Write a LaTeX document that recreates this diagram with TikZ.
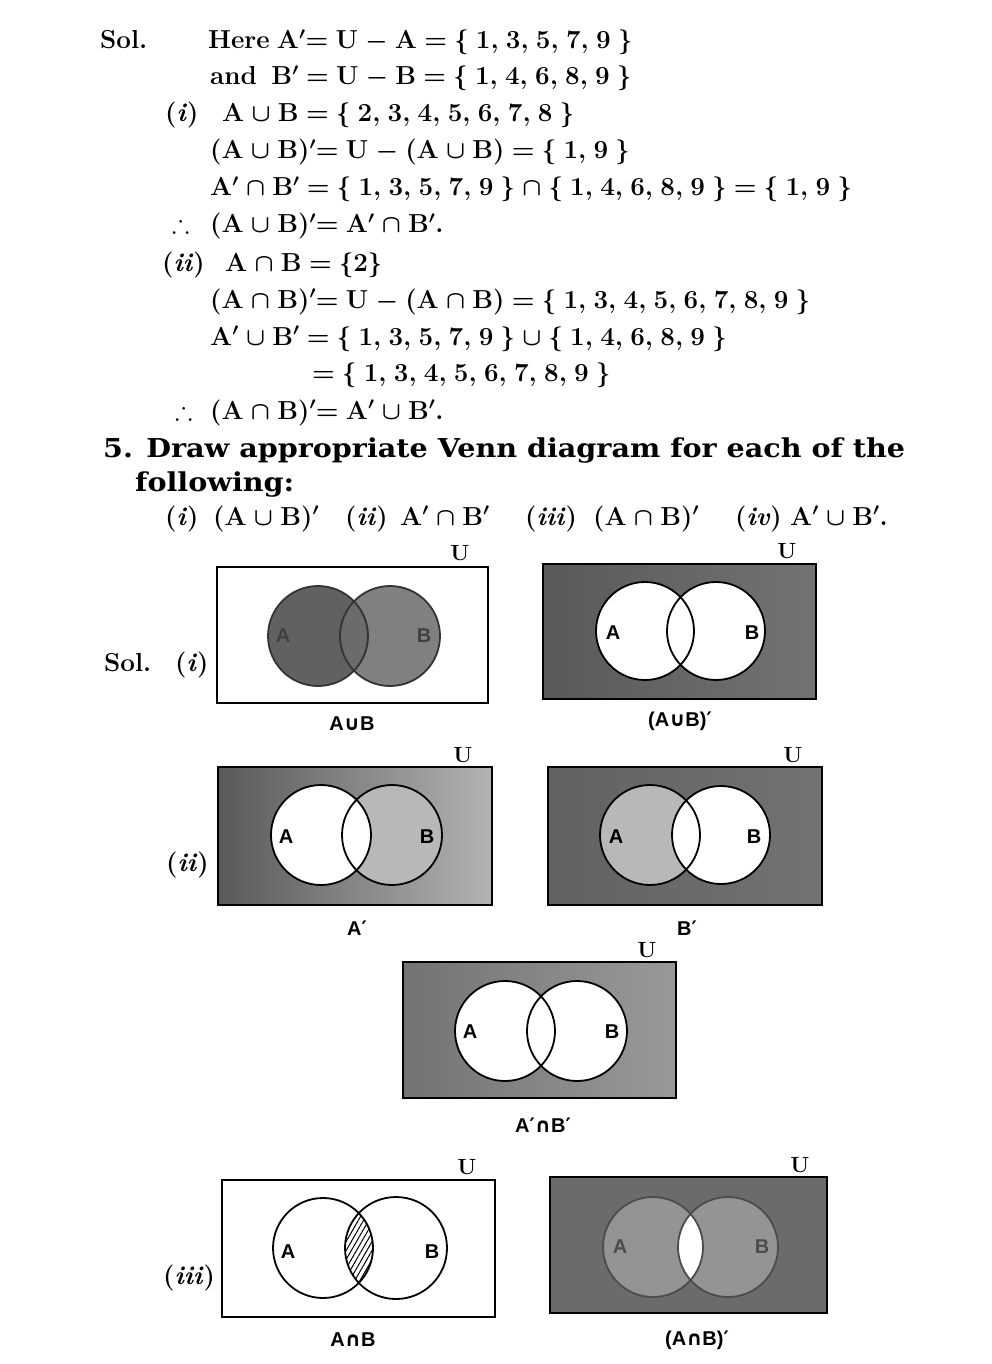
\documentclass[tikz,border=0pt]{standalone}
\usepackage{amssymb}
\usepackage{fontspec}
\newfontfamily\sansf{Liberation Sans}
\newfontfamily\dejasans{DejaVu Sans}
\newfontfamily\headf[FakeStretch=1.1]{DejaVu Serif}
\usetikzlibrary{patterns.meta}
\newcommand\tightsp{\spaceskip=0.28em plus 0.1em minus 0.05em\relax}
\begin{document}
\begin{tikzpicture}[x=1pt,y=-1pt,
  txt/.style={anchor=base west, inner sep=0pt, font=\fontsize{26}{30}\selectfont\bfseries\boldmath\tightsp},
  head/.style={anchor=base west, inner sep=0pt, font=\fontsize{26}{30}\selectfont\headf\bfseries},
  ulab/.style={inner sep=0pt, font=\fontsize{22}{22}\selectfont\bfseries},
  dlab/.style={inner sep=0pt, font=\fontsize{20}{20}\selectfont\sansf\bfseries},
  boxline/.style={line width=2.4pt},
  circline/.style={line width=1.8pt}]
\useasboundingbox[fill=white] (0,0) rectangle (992,1364);

% ---------- text ----------
\node[txt] (t1) at (100,49) {Sol.};
\node[txt] (t2) at (208,49) {Here A$'$= U $-$ A = $\{$ 1, 3, 5, 7, 9 $\}$};
\node[txt] (t3) at (210,85) {and \ B$'$ = U $-$ B = $\{$ 1, 4, 6, 8, 9 $\}$};
\node[txt] (t4a) at (165,122) {(\textit{i})};
\node[txt] (t4) at (222,122) {A $\cup$ B = $\{$ 2, 3, 4, 5, 6, 7, 8 $\}$};
\node[txt] (t5) at (210,159) {(A $\cup$ B)$'$= U $-$ (A $\cup$ B) = $\{$ 1, 9 $\}$};
\node[txt] (t6) at (210,196) {A$'$ $\cap$ B$'$ = $\{$ 1, 3, 5, 7, 9 $\}$ $\cap$ $\{$ 1, 4, 6, 8, 9 $\}$ = $\{$ 1, 9 $\}$};
\node[txt] (t7a) at (172,233) {$\therefore$};
\node[txt] (t7) at (210,233) {(A $\cup$ B)$'$= A$'$ $\cap$ B$'$.};
\node[txt] (t8a) at (162,271) {(\textit{ii})};
\node[txt] (t8) at (225,271) {A $\cap$ B = $\{$2$\}$};
\node[txt] (t9) at (210,308) {(A $\cap$ B)$'$= U $-$ (A $\cap$ B) = $\{$ 1, 3, 4, 5, 6, 7, 8, 9 $\}$};
\node[txt] (t10) at (210,345) {A$'$ $\cup$ B$'$ = $\{$ 1, 3, 5, 7, 9 $\}$ $\cup$ $\{$ 1, 4, 6, 8, 9 $\}$};
\node[txt] (t11) at (312,381) {= $\{$ 1, 3, 4, 5, 6, 7, 8, 9 $\}$};
\node[txt] (t12a) at (175,419) {$\therefore$};
\node[txt] (t12) at (210,419) {(A $\cap$ B)$'$= A$'$ $\cup$ B$'$.};
\node[head] (h1) at (103,457) {5. Draw appropriate Venn diagram for each of the};
\node[head] (h2) at (135,491) {following:};
\node[txt] (h3a) at (165,525) {(\textit{i})};
\node[txt] (h3b) at (213,525) {(A $\cup$ B)$'$};
\node[txt] (h3c) at (345,525) {(\textit{ii})};
\node[txt] (h3d) at (400,525) {A$'$ $\cap$ B$'$};
\node[txt] (h3e) at (525,525) {(\textit{iii})};
\node[txt] (h3f) at (593,525) {(A $\cap$ B)$'$};
\node[txt] (h3g) at (735,525) {(\textit{iv})};
\node[txt] (h3h) at (790,525) {A$'$ $\cup$ B$'$.};

\node[txt] (s1) at (104,671) {Sol.};
\node[txt] (s1b) at (175,671) {(\textit{i})};
\node[txt] (s2) at (166,871) {(\textit{ii})};
\node[txt] (s3) at (163,1284) {(\textit{iii})};

% ---------- diagram 1 : A u B ----------
\fill[black!62] (318,636) circle (50);
\fill[black!50] (390,636) circle (50);
\begin{scope}\clip (318,636) circle (50); \fill[black!58] (390,636) circle (50);\end{scope}
\draw[circline, black!80] (318,636) circle (50) (390,636) circle (50);
\draw[boxline] (217,567) rectangle (488,703);
\node[dlab, text=black!75] (d1a) at (283,636) {A};
\node[dlab, text=black!75] (d1b) at (424,636) {B};
\node[ulab] (d1u) at (460,553) {U};
\node[dlab] (d1c) at (352,724) {A{\dejasans ∪}B};

% ---------- diagram 2 : (A u B)' ----------
\fill[left color=black!65, right color=black!55] (543,564) rectangle (816,699);
\fill[white] (645,631) circle (49) (716,631) circle (49);
\draw[circline] (645,631) circle (49) (716,631) circle (49);
\draw[boxline] (543,564) rectangle (816,699);
\node[dlab] (d2a) at (613,633) {A};
\node[dlab] (d2b) at (752,633) {B};
\node[ulab] (d2u) at (787,551) {U};
\node[dlab] (d2c) at (680,721) {(A{\dejasans ∪}B){\dejasans ′}};

% ---------- diagram 3 : A' ----------
\fill[left color=black!65, right color=black!30] (218,767) rectangle (492,905);
\fill[black!28] (392,835) circle (50);
\fill[white] (321,835) circle (50);
\draw[circline] (321,835) circle (50) (392,835) circle (50);
\draw[boxline] (218,767) rectangle (492,905);
\node[dlab] (d3a) at (286,837) {A};
\node[dlab] (d3b) at (427,837) {B};
\node[ulab] (d3u) at (463,755) {U};
\node[dlab] (d3c) at (357,928) {A{\dejasans ′}};

% ---------- diagram 4 : B' ----------
\fill[left color=black!62, right color=black!55] (548,767) rectangle (822,905);
\fill[black!28] (650,835) circle (50);
\fill[white] (721,835) circle (49);
\draw[circline] (650,835) circle (50) (721,835) circle (49);
\draw[boxline] (548,767) rectangle (822,905);
\node[dlab] (d4a) at (616,837) {A};
\node[dlab] (d4b) at (754,837) {B};
\node[ulab] (d4u) at (793,755) {U};
\node[dlab] (d4c) at (687,928) {B{\dejasans ′}};

% ---------- diagram 5 : A' n B' ----------
\fill[left color=black!55, right color=black!40] (403,962) rectangle (676,1098);
\fill[white] (505,1031) circle (50) (577,1031) circle (50);
\draw[circline] (505,1031) circle (50) (577,1031) circle (50);
\draw[boxline] (403,962) rectangle (676,1098);
\node[dlab] (d5a) at (470,1032) {A};
\node[dlab] (d5b) at (612,1032) {B};
\node[ulab] (d5u) at (647,950) {U};
\node[dlab] (d5c) at (543,1125) {A{\dejasans ′∩}B{\dejasans ′}};

% ---------- diagram 6 : A n B ----------
\begin{scope}
  \clip (323,1248) circle (50);
  \fill[pattern={Lines[angle=60,distance=4.5pt,line width=1pt]}] (396,1248) circle (51);
\end{scope}
\draw[circline] (323,1248) circle (50) (396,1248) circle (51);
\draw[boxline] (222,1180) rectangle (495,1317);
\node[dlab] (d6a) at (288,1252) {A};
\node[dlab] (d6b) at (432,1252) {B};
\node[ulab] (d6u) at (467,1167) {U};
\node[dlab] (d6c) at (353,1340) {A{\dejasans ∩}B};

% ---------- diagram 7 : (A n B)' ----------
\fill[black!58] (550,1177) rectangle (827,1313);
\fill[black!42] (653,1247) circle (50) (728,1247) circle (50);
\begin{scope}\clip (653,1247) circle (50); \fill[white] (728,1247) circle (50);\end{scope}
\draw[circline, black!70] (653,1247) circle (50) (728,1247) circle (50);
\draw[boxline] (550,1177) rectangle (827,1313);
\node[dlab, text=black!70] (d7a) at (620,1247) {A};
\node[dlab, text=black!70] (d7b) at (762,1247) {B};
\node[ulab] (d7u) at (800,1165) {U};
\node[dlab] (d7c) at (697,1340) {(A{\dejasans ∩}B){\dejasans ′}};
\end{tikzpicture}
\end{document}
